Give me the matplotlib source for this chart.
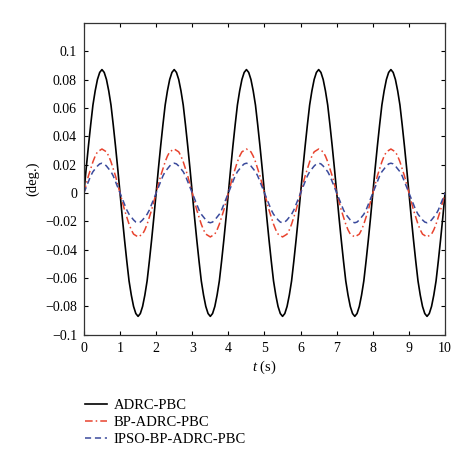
import numpy as np
import matplotlib
matplotlib.use('Agg')
import matplotlib.pyplot as plt

plt.rcParams['font.family'] = 'Liberation Serif'
plt.rcParams['mathtext.fontset'] = 'custom'
plt.rcParams['mathtext.it'] = 'Liberation Serif:italic'
plt.rcParams['mathtext.rm'] = 'Liberation Serif'

step = 0.0625
n_periods = 5
adrc_cycle = [0, .017, .033, .048, .062, .072, .080, .085, .087, .085, .080, .072, .062, .048, .033, .017,
              0, -.017, -.033, -.048, -.062, -.072, -.080, -.085, -.087, -.085, -.080, -.072, -.062, -.048, -.033, -.017]
bp_cycle = [0, .006, .012, .017, .022, .026, .029, .030, .031, .030, .029, .026, .022, .017, .012, .006,
            0, -.006, -.012, -.017, -.022, -.026, -.029, -.030, -.031, -.030, -.029, -.026, -.022, -.017, -.012, -.006]
ipso_cycle = [0, .004, .008, .012, .015, .017, .019, .0205, .021, .0205, .019, .017, .015, .012, .008, .004,
              0, -.004, -.008, -.012, -.015, -.017, -.019, -.0205, -.021, -.0205, -.019, -.017, -.015, -.012, -.008, -.004]

labels = ['ADRC-PBC', 'BP-ADRC-PBC', 'IPSO-BP-ADRC-PBC']
yticks = [-0.1, -0.08, -0.06, -0.04, -0.02, 0, 0.02, 0.04, 0.06, 0.08, 0.1]
ytick_labels = ['\u22120.1', '\u22120.08', '\u22120.06', '\u22120.04', '\u22120.02', '0',
                '0.02', '0.04', '0.06', '0.08', '0.1']
xticks = list(range(0, 11))

adrc = np.append(np.tile(adrc_cycle, n_periods), 0)
bp = np.append(np.tile(bp_cycle, n_periods), 0)
ipso = np.append(np.tile(ipso_cycle, n_periods), 0)
t = np.arange(len(adrc)) * step

fig = plt.figure(figsize=(4.74, 4.65), dpi=100)
ax = fig.add_axes([0.177, 0.280, 0.762, 0.671])

l1, = ax.plot(t, adrc, color='black', linewidth=1.2, linestyle='-')
l2, = ax.plot(t, bp, color='#e8432e', linewidth=1.1, linestyle=(0, (5, 2, 1, 2)))
l3, = ax.plot(t, ipso, color='#3a4a9c', linewidth=1.1, linestyle=(0, (4, 2.5)))

ax.set_xlim(0, 10)
ax.set_ylim(-0.1, 0.12)
ax.set_xticks(xticks)
ax.set_yticks(yticks)
ax.set_yticklabels(ytick_labels)
ax.tick_params(direction='in', top=True, right=True, labelsize=10, length=3, width=0.8, pad=5)
for s in ax.spines.values():
    s.set_linewidth(0.9)
    s.set_color('#333333')

ax.set_xlabel(r'$t$ (s)', fontsize=10.5, labelpad=3)
ax.set_ylabel('(deg.)', fontsize=10.5, labelpad=4)

fig.legend([l1, l2, l3], labels, loc='upper left', bbox_to_anchor=(0.152, 0.17),
           frameon=False, fontsize=10.5, handlelength=1.5, handletextpad=0.45, labelspacing=0.25)

fig.savefig('out.png', dpi=100, facecolor='white')
